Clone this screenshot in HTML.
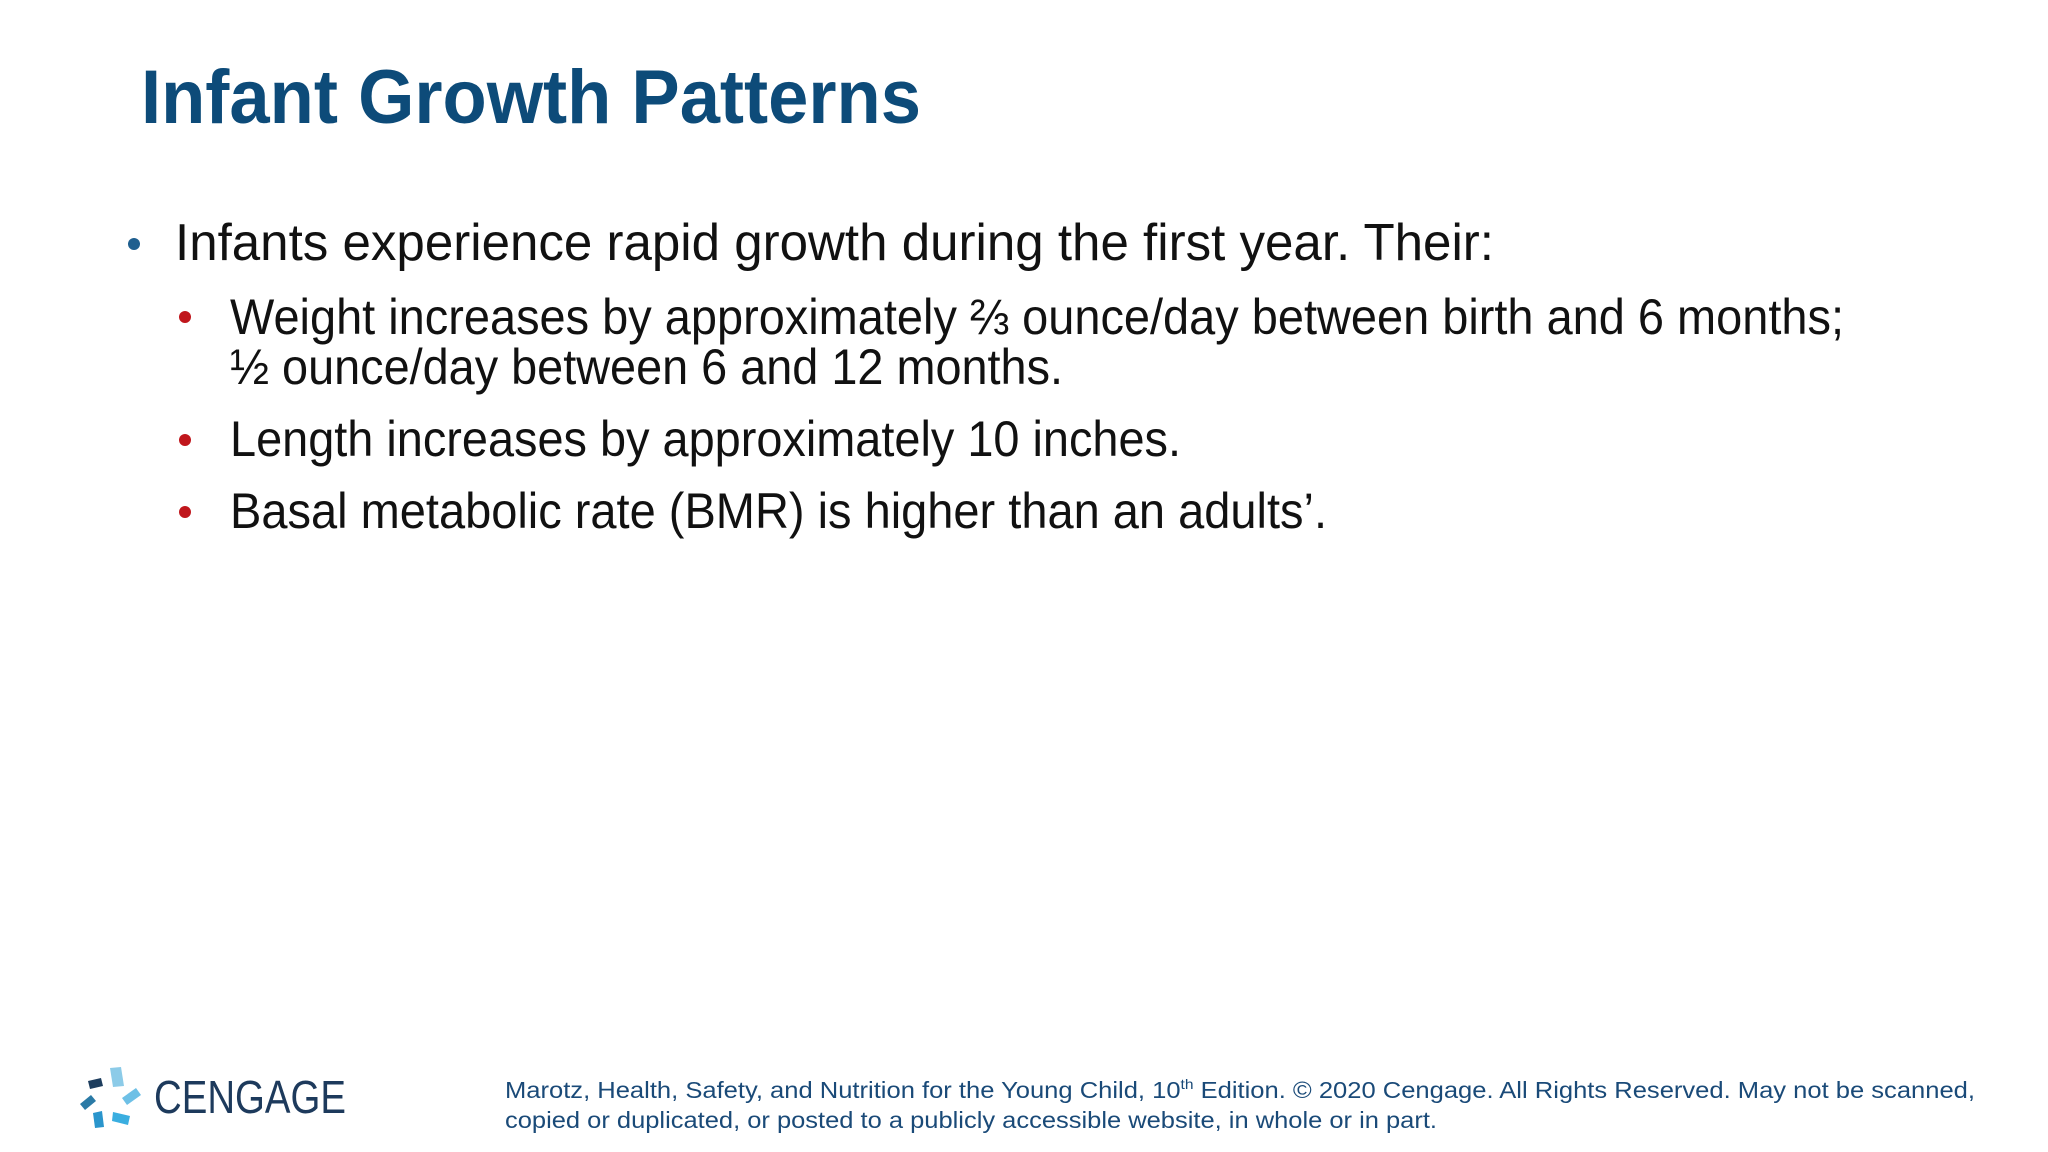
<!DOCTYPE html>
<html><head><meta charset="utf-8"><style>
html,body{margin:0;padding:0;background:#fff;}
svg{display:block;}
text{font-family:"Liberation Sans",Arial,sans-serif;}
</style></head><body>
<svg width="2048" height="1152" viewBox="0 0 2048 1152">
<rect width="2048" height="1152" fill="#fff"/>
<text x="141" y="123" font-size="76" font-weight="bold" fill="#0d4b79" textLength="780" lengthAdjust="spacingAndGlyphs">Infant Growth Patterns</text>

<circle cx="134" cy="244" r="6" fill="#1f5f8f"/>
<text x="175" y="260" font-size="52" fill="#111" textLength="1319" lengthAdjust="spacingAndGlyphs">Infants experience rapid growth during the first year. Their:</text>

<circle cx="185" cy="317" r="6" fill="#c0161c"/>
<text x="230" y="334" font-size="50" fill="#111" textLength="1614" lengthAdjust="spacingAndGlyphs">Weight increases by approximately ⅔ ounce/day between birth and 6 months;</text>
<text x="230" y="384" font-size="50" fill="#111" textLength="833" lengthAdjust="spacingAndGlyphs">½ ounce/day between 6 and 12 months.</text>

<circle cx="185" cy="440" r="6" fill="#c0161c"/>
<text x="230" y="456" font-size="50" fill="#111" textLength="951" lengthAdjust="spacingAndGlyphs">Length increases by approximately 10 inches.</text>

<circle cx="185" cy="512" r="6" fill="#c0161c"/>
<text x="230" y="528" font-size="50" fill="#111" textLength="1097" lengthAdjust="spacingAndGlyphs">Basal metabolic rate (BMR) is higher than an adults’.</text>

<g>
<polygon points="88,1081 101,1078 103,1086 90,1089" fill="#1d3d5e"/>
<polygon points="110,1068 121,1067 124,1086 113,1087" fill="#8ccbe8"/>
<polygon points="122,1098 136,1088 141,1095 127,1105" fill="#6ec0e6"/>
<polygon points="80,1104 91,1095 96,1101 85,1110" fill="#2a7aa6"/>
<polygon points="93,1113 102,1111 104,1127 95,1128" fill="#2a95cc"/>
<polygon points="113,1112 130,1116 128,1125 112,1121" fill="#3aaee0"/>
</g>
<text x="154" y="1113" font-size="46" fill="#1d3a5c" textLength="192" lengthAdjust="spacingAndGlyphs">CENGAGE</text>

<text x="505" y="1098" font-size="23" fill="#1a4a78" textLength="1470" lengthAdjust="spacingAndGlyphs">Marotz, Health, Safety, and Nutrition for the Young Child, 10<tspan font-size="14" dy="-9">th</tspan><tspan dy="9"> Edition. © 2020 Cengage. All Rights Reserved. May not be scanned,</tspan></text>
<text x="505" y="1128" font-size="23" fill="#1a4a78" textLength="932" lengthAdjust="spacingAndGlyphs">copied or duplicated, or posted to a publicly accessible website, in whole or in part.</text>
</svg>
</body></html>
